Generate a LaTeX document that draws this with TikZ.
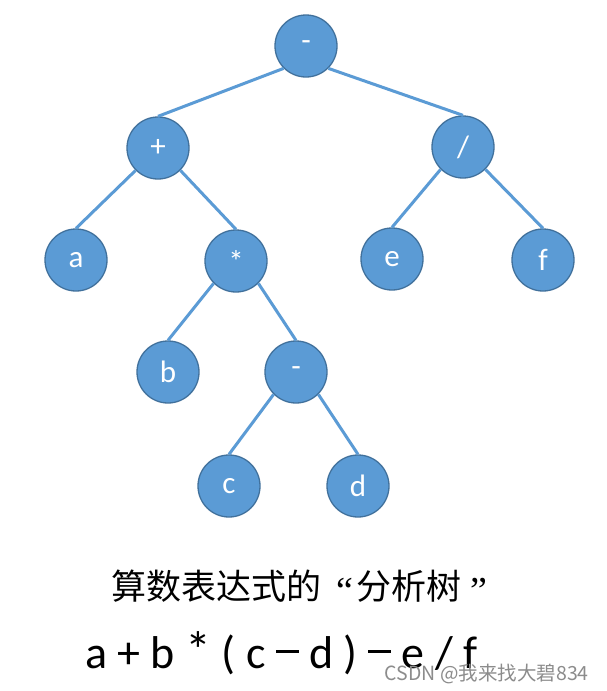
\documentclass[tikz,border=0pt]{standalone}
\usepackage{fontspec}
\setmainfont{Carlito}
\newfontfamily\cjk{Noto Sans CJK SC}
\newfontfamily\qfont{Liberation Serif}
\newcommand\longminus{\rule[15pt]{23pt}{3pt}}
\definecolor{nodefill}{HTML}{5B9BD5}
\definecolor{nodeline}{HTML}{41719C}
\definecolor{edgecol}{HTML}{5B9BD5}
\definecolor{wmark}{HTML}{8C8C8C}
\begin{document}
\begin{tikzpicture}[x=1pt,y=-1pt,
  tnode/.style={circle,fill=nodefill,draw=nodeline,line width=1.3pt,minimum size=62pt,inner sep=0pt,text=white,font=\fontsize{31}{31}\selectfont},
  tedge/.style={draw=edgecol,line width=3pt},
  captxt/.style={anchor=base west,inner sep=0pt,font=\cjk\fontsize{35}{35}\selectfont},
  quotetxt/.style={anchor=base west,inner sep=0pt,font=\qfont\fontsize{38}{38}\selectfont}]
\path[fill=white] (0,0) rectangle (606,691);
\useasboundingbox (0,0) rectangle (606,691);
\node[tnode] (r) at (306,46) {-};
\node[tnode] (plus) at (158,148) {+};
\node[tnode] (div) at (463,147) {/};
\node[tnode] (a) at (76,260) {a};
\node[tnode] (mul) at (236,261) {*};
\node[tnode] (e) at (392,259) {e};
\node[tnode] (f) at (543,260) {f};
\node[tnode] (b) at (168,372) {b};
\node[tnode] (sub) at (296,372) {-};
\node[tnode] (c) at (229,486) {c};
\node[tnode] (d) at (358,486) {d};
\draw[tedge] (r.south west) -- (plus.north);
\draw[tedge] (r.south east) -- (div.north);
\draw[tedge] (plus.south west) -- (a.north);
\draw[tedge] (plus.south east) -- (mul.north);
\draw[tedge] (mul.south west) -- (b.north);
\draw[tedge] (mul.south east) -- (sub.north);
\draw[tedge] (sub.south west) -- (c.north);
\draw[tedge] (sub.south east) -- (d.north);
\draw[tedge] (div.south west) -- (e.north);
\draw[tedge] (div.south east) -- (f.north);
\node[captxt] (cap1) at (111,599) {算数表达式的};
\node[quotetxt] (q1) at (336,603) {“};
\node[captxt] (cap2) at (356,599) {分析树};
\node[quotetxt] (q2) at (470,603) {”};
\node[font=\fontsize{46}{46}\selectfont,anchor=base west,inner sep=0pt] (expr) at (85,668) {a + b {\fontsize{52}{52}\selectfont*} ( c \longminus{} d ) \longminus{} e / f};
\node[font=\cjk\fontsize{19.5}{19.5}\selectfont,text=wmark,anchor=base east,inner sep=0pt] (wm) at (589,680) {CSDN @我来找大碧834};
\end{tikzpicture}
\end{document}
